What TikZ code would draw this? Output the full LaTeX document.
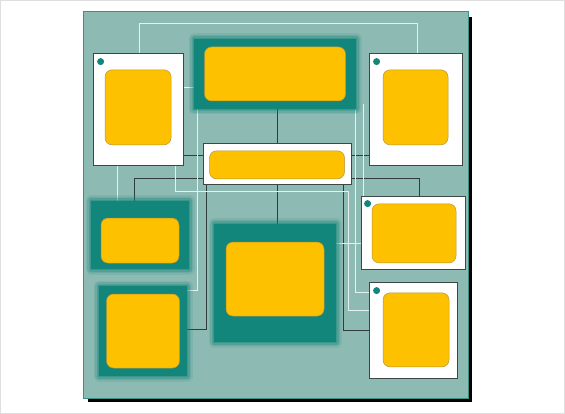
\documentclass[tikz,border=0pt]{standalone}
\usetikzlibrary{positioning}

\definecolor{panelteal}{HTML}{8EBAB4}
\definecolor{panelrim}{HTML}{3A9286}
\definecolor{glowteal}{HTML}{12867A}
\definecolor{padfill}{HTML}{FDC100}
\definecolor{padedge}{HTML}{B8953A}
\definecolor{cardedge}{HTML}{3E4747}
\definecolor{wiredark}{HTML}{2F3D3C}
\definecolor{wirelight}{HTML}{E3F2EF}

\pgfdeclarelayer{back}
\pgfdeclarelayer{wires}
\pgfsetlayers{back,wires,main}

\begin{document}
\begin{tikzpicture}[
x=1pt, y=-1pt,
panel/.style={fill=panelteal, draw=panelrim, line width=1pt},
card/.style={rectangle, fill=white, draw=cardedge, line width=0.8pt, inner sep=0pt},
glow/.style={rectangle, fill=glowteal, inner sep=0pt, line join=round,
    preaction={draw=glowteal, line width=11pt, opacity=.12},
    preaction={draw=glowteal, line width=8pt, opacity=.18},
    preaction={draw=glowteal, line width=5pt, opacity=.25},
    preaction={draw=glowteal, line width=2pt, opacity=.35}},
pad/.style={rectangle, rounded corners=7pt, fill=padfill, draw=padedge,
    line width=0.5pt, inner sep=0pt},
spot/.style={circle, fill=glowteal, inner sep=0pt, minimum size=7pt},
wire-dark/.style={draw=wiredark, line width=0.9pt},
wire-light/.style={draw=wirelight, line width=0.9pt}
]
\useasboundingbox (0,0) rectangle (565,414);

\begin{pgfonlayer}{back}
\draw [gray!25] (0.5,0.5) rectangle (564.5,413.5);
\fill [black] (88,17) rectangle (472,402);
\draw [panel] (83,12) rectangle (468,398);
\end{pgfonlayer}

% white cards
\node [card, minimum width=90pt, minimum height=112pt] (card-tl) at (138,109) {};
\node [card, minimum width=93pt, minimum height=112pt] (card-tr) at (415.5,109) {};
\node [card, minimum width=104pt, minimum height=73pt] (card-rm) at (413,232.5) {};
\node [card, minimum width=88pt, minimum height=96pt] (card-rb) at (413,330) {};
\node [card, minimum width=148pt, minimum height=41pt] (bar) at (277,163.5) {};

% teal boxes
\node [glow, minimum width=162pt, minimum height=70pt] (glow-top) at (275,74) {};
\node [glow, minimum width=98pt, minimum height=68pt] (glow-lm) at (140,235) {};
\node [glow, minimum width=88pt, minimum height=90pt] (glow-lb) at (143,331) {};
\node [glow, minimum width=122pt, minimum height=118pt] (glow-c) at (275,283) {};

% yellow pads
\node [pad, minimum width=66pt, minimum height=75pt, below=17pt of card-tl.north] (pad-tl) {};
\node [pad, minimum width=65pt, minimum height=75pt, below=17pt of card-tr.north] (pad-tr) {};
\node [pad, minimum width=84pt, minimum height=59pt, below=8pt of card-rm.north, xshift=1pt] (pad-rm) {};
\node [pad, minimum width=66pt, minimum height=74pt, below=11pt of card-rb.north, xshift=3pt] (pad-rb) {};
\node [pad, minimum width=135pt, minimum height=28pt, below=8pt of bar.north] (pad-bar) {};
\node [pad, minimum width=141pt, minimum height=54pt] (pad-top) at (glow-top) {};
\node [pad, minimum width=78pt, minimum height=45pt, below=17pt of glow-lm.north] (pad-lm) {};
\node [pad, minimum width=73pt, minimum height=74pt] (pad-lb) at (glow-lb) {};
\node [pad, minimum width=98pt, minimum height=74pt, below=18pt of glow-c.north] (pad-c) {};

% corner dots
\node [spot] (spot-tl) at ([shift={(8pt,-9pt)}]card-tl.north west) {};
\node [spot] (spot-tr) at ([shift={(8pt,-9pt)}]card-tr.north west) {};
\node [spot] (spot-rm) at ([shift={(7pt,-8pt)}]card-rm.north west) {};
\node [spot] (spot-rb) at ([shift={(8pt,-9pt)}]card-rb.north west) {};

% bends
\coordinate (row-a) at (0,155);
\coordinate (row-b) at (0,87);
\coordinate (row-c) at (0,243);
\coordinate (bend-l) at (134,178);
\coordinate (bend-r) at (419,178);
\coordinate (foot-l) at (206,329);
\coordinate (foot-r) at (343,330);
\coordinate (loop-l) at (139,23);
\coordinate (loop-r) at (417,23);
\coordinate (drop-l) at (117,0);
\coordinate (run-a) at (175,191);
\coordinate (run-b) at (348,310);
\coordinate (run-c) at (197,290);
\coordinate (run-d) at (355,292);
\coordinate (run-e) at (363,104);

\begin{pgfonlayer}{wires}
\draw [wire-dark] (glow-top.south -| bar.north) -- (bar.north);
\draw [wire-dark] (bar.south) -- (bar.south |- glow-c.north);
\draw [wire-dark] (card-tl.east |- row-a) -- (bar.west |- row-a);
\draw [wire-dark] (bar.east |- row-a) -- (card-tr.west |- row-a);
\draw [wire-dark] (bar.west |- bend-l) -| (glow-lm.center -| bend-l);
\draw [wire-dark] (bar.east |- bend-r) -| (card-rm.north -| bend-r);
\draw [wire-dark] (bar.south -| foot-l) |- (glow-lb.east |- foot-l);
\draw [wire-dark] (bar.south -| foot-r) |- (card-rb.west |- foot-r);

\draw [wire-light] (card-tl.north -| loop-l) -- (loop-l) -- (loop-r) -- (card-tr.north -| loop-r);
\draw [wire-light] (card-tl.east |- row-b) -- (glow-top.west |- row-b);
\draw [wire-light] (card-tl.south -| drop-l) -- (glow-lm.north -| drop-l);
\draw [wire-light] (card-tl.south -| run-a) -- (run-a) -| (run-b) -- (card-rb.west |- run-b);
\draw [wire-light] (glow-top.south -| run-c) |- (glow-lb.east |- run-c);
\draw [wire-light] (glow-top.south -| run-d) |- (card-rb.west |- run-d);
\draw [wire-light] (run-e) -- (card-rm.north -| run-e);
\draw [wire-light] (glow-c.east |- row-c) -- (card-rm.west |- row-c);
\end{pgfonlayer}
\end{tikzpicture}
\end{document}
